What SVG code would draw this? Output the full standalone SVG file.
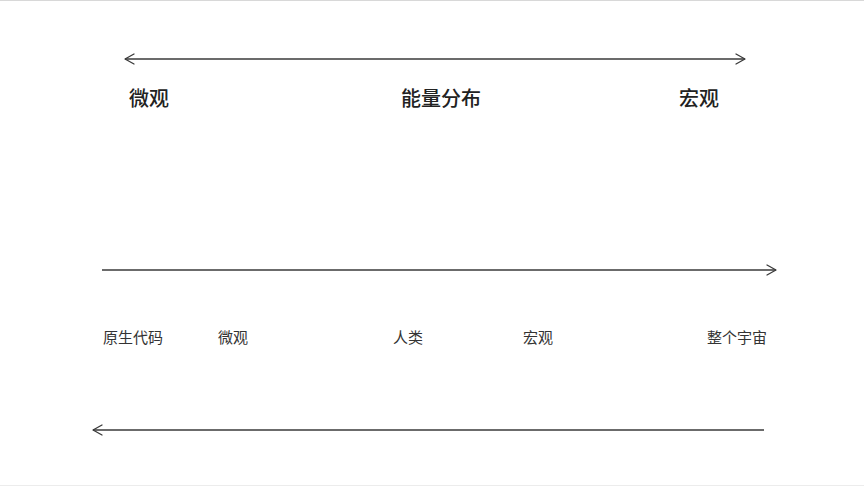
<svg xmlns="http://www.w3.org/2000/svg" width="864" height="486" viewBox="0 0 864 486">
<style>
.ln{stroke:#3a3a3a;stroke-width:1.3;fill:none}
.hd{stroke:#3a3a3a;stroke-width:1.3;fill:none;stroke-linecap:round;stroke-linejoin:round}
.t1{font-family:"Noto Sans CJK SC",sans-serif;font-size:20px;font-weight:500;fill:#222}
.t2{font-family:"Liberation Serif","Noto Sans CJK SC",serif;font-size:15px;fill:#333}
</style>
<rect x="0" y="0" width="864" height="486" fill="#fff"/>
<line x1="0" y1="0.5" x2="864" y2="0.5" stroke="#d8d8d8" stroke-width="1"/>
<line x1="0" y1="485.5" x2="864" y2="485.5" stroke="#ececec" stroke-width="1"/>
<g id="connectors">
<line class="ln" x1="125" y1="59" x2="745" y2="59"/>
<polyline class="hd" points="134,54 125,59 134,64"/>
<polyline class="hd" points="736,54 745,59 736,64"/>
<line class="ln" x1="102" y1="270" x2="776" y2="270"/>
<polyline class="hd" points="767,265 776,270 767,275"/>
<line class="ln" x1="93" y1="430" x2="764" y2="430"/>
<polyline class="hd" points="102,425 93,430 102,435"/>
</g>
<g id="top-micro"><text class="t1" x="129" y="106">微观</text></g>
<g id="top-energy"><text class="t1" x="401" y="106">能量分布</text></g>
<g id="top-macro"><text class="t1" x="679" y="106">宏观</text></g>
<g id="b-native"><text class="t2" x="103" y="343">原生代码</text></g>
<g id="b-micro"><text class="t2" x="218" y="343">微观</text></g>
<g id="b-human"><text class="t2" x="393" y="343">人类</text></g>
<g id="b-macro"><text class="t2" x="523" y="343">宏观</text></g>
<g id="b-universe"><text class="t2" x="707" y="343">整个宇宙</text></g>
</svg>
